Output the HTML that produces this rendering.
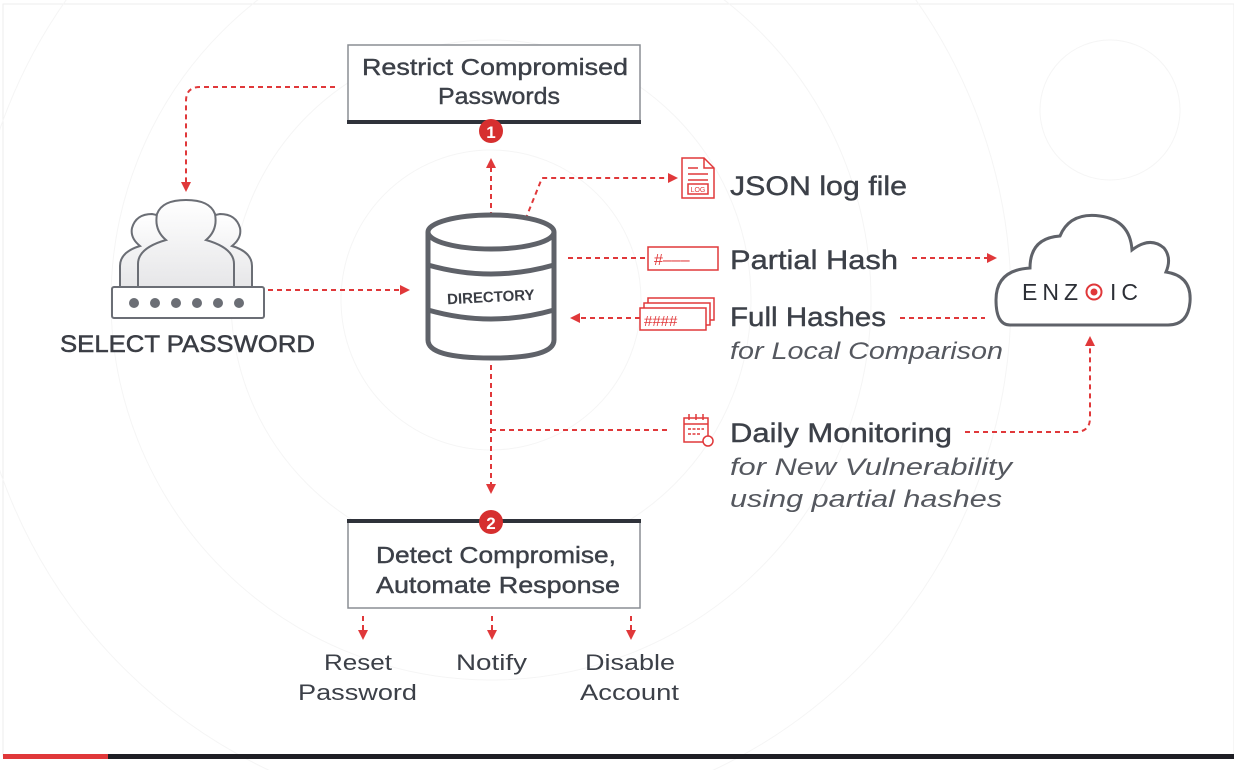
<!DOCTYPE html>
<html><head><meta charset="utf-8"><style>
html,body{margin:0;padding:0;background:#fff;width:1234px;height:770px;overflow:hidden}
svg{display:block}
text{font-family:"Liberation Sans",sans-serif;fill:#3c4048}
</style></head><body>
<svg width="1234" height="770" viewBox="0 0 1234 770" xmlns="http://www.w3.org/2000/svg">
<defs>
<marker id="ah" viewBox="0 0 10 10" refX="8" refY="5" markerWidth="5" markerHeight="5" orient="auto"><path d="M0,0L10,5L0,10z" fill="#e0383a"/></marker>
<linearGradient id="pg" x1="0" y1="0" x2="0" y2="1"><stop offset="0" stop-color="#fff"/><stop offset="1" stop-color="#e6e6e8"/></linearGradient>
</defs>
<rect x="0" y="0" width="1234" height="770" fill="#fff"/>
<rect x="3" y="4" width="1231" height="752" fill="none" stroke="#eeeeee" stroke-width="1"/>
<g fill="none" stroke="#f5f5f5" stroke-width="1">
<circle cx="491" cy="300" r="150"/>
<circle cx="491" cy="300" r="260"/>
<circle cx="491" cy="300" r="380"/>
<circle cx="491" cy="300" r="520"/>
<circle cx="1110" cy="110" r="70"/>
</g>
<rect x="3" y="754" width="105" height="5" fill="#e0383a"/>
<rect x="108" y="754" width="1126" height="5" fill="#1e1e24"/>

<!-- Users icon -->
<g stroke="#6b6e75" stroke-width="2" fill="url(#pg)">
<path d="M120,288 V266 Q120,252 140,246 Q130,238 132,228 Q136,214 152,214 Q166,216 168,230 L168,288z"/>
<path d="M252,288 V266 Q252,252 232,246 Q242,238 240,228 Q236,214 220,214 Q206,216 204,230 L204,288z"/>
<path d="M138,288 V264 Q138,248 166,240 Q154,230 157,214 Q162,200 186,200 Q210,200 215,214 Q218,230 206,240 Q234,248 234,264 V288z"/>
<rect x="112" y="287" width="152" height="31" rx="2" fill="#fff"/>
</g>
<g fill="#6b6e75"><circle cx="134" cy="303" r="5"/><circle cx="155" cy="303" r="5"/><circle cx="176" cy="303" r="5"/><circle cx="197" cy="303" r="5"/><circle cx="218" cy="303" r="5"/><circle cx="239" cy="303" r="5"/></g>
<text x="60" y="352" font-size="24" textLength="255" lengthAdjust="spacingAndGlyphs" stroke="#3a3d44" stroke-width="0.5" style="fill:#3a3d44">SELECT PASSWORD</text>

<g stroke="#e0383a" stroke-width="2" stroke-dasharray="5,4" fill="none">
<path d="M335,87 H200 Q186,87 186,101 V190" marker-end="url(#ah)"/>
<path d="M491,235 V160" marker-end="url(#ah)"/>
<path d="M522,228 L542,178 H676" marker-end="url(#ah)"/>
<path d="M268,290 H408" marker-end="url(#ah)"/>
<path d="M568,258 H645"/>
<path d="M912,258 H995" marker-end="url(#ah)"/>
<path d="M640,318 H572" marker-end="url(#ah)"/>
<path d="M900,318 H985"/>
<path d="M491,365 V492" marker-end="url(#ah)"/>
<path d="M491,430 H670"/>
<path d="M965,432 H1075 Q1090,432 1090,418 V338" marker-end="url(#ah)"/>
<path d="M363,616 V638" marker-end="url(#ah)"/>
<path d="M492,616 V638" marker-end="url(#ah)"/>
<path d="M631,616 V638" marker-end="url(#ah)"/>
</g>

<!-- Box 1 -->
<rect x="348" y="45" width="292" height="77" fill="#fff" stroke="#8a8d94" stroke-width="1.5"/>
<rect x="347" y="120" width="294" height="4" fill="#2f323a"/>
<text x="362" y="75" font-size="23" textLength="266" lengthAdjust="spacingAndGlyphs" stroke="#3c4048" stroke-width="0.4">Restrict Compromised</text>
<text x="438" y="104" font-size="23" textLength="122" lengthAdjust="spacingAndGlyphs" stroke="#3c4048" stroke-width="0.4">Passwords</text>
<circle cx="491" cy="131" r="12" fill="#d62f2f"/>
<text x="491" y="138" font-size="17" font-weight="bold" text-anchor="middle" style="fill:#fff">1</text>

<!-- Box 2 -->
<rect x="348" y="521" width="292" height="87" fill="#fff" stroke="#8a8d94" stroke-width="1.5"/>
<rect x="347" y="519" width="294" height="4" fill="#2f323a"/>
<circle cx="491" cy="522" r="12" fill="#d62f2f"/>
<text x="491" y="529" font-size="17" font-weight="bold" text-anchor="middle" style="fill:#fff">2</text>
<text x="376" y="563" font-size="23" textLength="240" lengthAdjust="spacingAndGlyphs" stroke="#3c4048" stroke-width="0.4">Detect Compromise,</text>
<text x="376" y="593" font-size="23" textLength="244" lengthAdjust="spacingAndGlyphs" stroke="#3c4048" stroke-width="0.4">Automate Response</text>

<text x="324" y="670" font-size="22" textLength="68" lengthAdjust="spacingAndGlyphs">Reset</text>
<text x="298" y="700" font-size="22" textLength="119" lengthAdjust="spacingAndGlyphs">Password</text>
<text x="456" y="670" font-size="22" textLength="71" lengthAdjust="spacingAndGlyphs">Notify</text>
<text x="585" y="670" font-size="22" textLength="90" lengthAdjust="spacingAndGlyphs">Disable</text>
<text x="580" y="700" font-size="22" textLength="99" lengthAdjust="spacingAndGlyphs">Account</text>

<!-- Cylinder -->
<g stroke="#5f6269" stroke-width="5" fill="#fff">
<path d="M428,232 V340 Q428,358 491,358 Q554,358 554,340 V232"/>
<ellipse cx="491" cy="232" rx="63" ry="17"/>
<path d="M428,265 Q491,283 554,265" fill="none"/>
<path d="M428,310 Q491,328 554,310" fill="none"/>
</g>
<text x="491" y="302" font-size="15" font-weight="bold" text-anchor="middle" transform="rotate(-3 491 300)" style="fill:#3a3d44">DIRECTORY</text>

<!-- LOG icon -->
<g stroke="#e0383a" stroke-width="1.5" fill="#fff">
<path d="M682,158 H704 L714,168 V198 H682z"/>
<path d="M704,158 V168 H714" fill="none"/>
<path d="M688,168 H698 M688,174 H708 M688,180 H708" fill="none"/>
<rect x="688" y="184" width="20" height="10" fill="none"/>
</g>
<text x="698" y="192" font-size="7" text-anchor="middle" style="fill:#e0383a">LOG</text>
<text x="730" y="195" font-size="27" textLength="177" lengthAdjust="spacingAndGlyphs" stroke="#3c4048" stroke-width="0.4">JSON log file</text>

<!-- Partial hash -->
<rect x="648" y="247" width="70" height="23" fill="#fff" stroke="#e0383a" stroke-width="1.5"/>
<text x="654" y="265" font-size="16" style="fill:#e0383a">#‒‒‒</text>
<text x="730" y="269" font-size="27" textLength="168" lengthAdjust="spacingAndGlyphs" stroke="#3c4048" stroke-width="0.4">Partial Hash</text>

<!-- Full hashes -->
<g stroke="#e0383a" stroke-width="1.5" fill="#fff">
<rect x="648" y="298" width="66" height="22"/>
<rect x="644" y="303" width="66" height="22"/>
<rect x="640" y="308" width="66" height="22"/>
</g>
<text x="644" y="326" font-size="15" style="fill:#e0383a">####</text>
<text x="730" y="326" font-size="27" textLength="156" lengthAdjust="spacingAndGlyphs" stroke="#3c4048" stroke-width="0.4">Full Hashes</text>
<text x="730" y="359" font-size="24" font-style="italic" textLength="273" lengthAdjust="spacingAndGlyphs" style="fill:#55585f">for Local Comparison</text>

<!-- Cloud -->
<path d="M1010,325 Q996,325 996,300 Q996,270 1030,268 Q1030,238 1060,236 Q1070,212 1100,216 Q1130,220 1132,250 Q1150,236 1164,248 Q1172,258 1166,272 Q1192,276 1190,302 Q1188,325 1168,325 Z" fill="#fff" stroke="#5f6269" stroke-width="3"/>
<text x="1022" y="300" font-size="23" style="fill:#2c2f36;letter-spacing:5px">ENZ</text>
<circle cx="1094" cy="292" r="7.5" fill="none" stroke="#e0383a" stroke-width="2"/>
<circle cx="1094" cy="292" r="3.5" fill="#e0383a"/>
<text x="1110" y="300" font-size="23" style="fill:#2c2f36;letter-spacing:5px">IC</text>

<!-- Calendar -->
<g stroke="#e0383a" stroke-width="1.5" fill="#fff">
<rect x="684" y="418" width="24" height="24"/>
<path d="M684,424 H708 M689,414 V420 M696,414 V420 M703,414 V420" fill="none"/>
<path d="M688,429 H704 M688,434 H700" fill="none" stroke-dasharray="3,1.5"/>
<circle cx="708" cy="441" r="5"/>
</g>
<text x="730" y="442" font-size="27" textLength="222" lengthAdjust="spacingAndGlyphs" stroke="#3c4048" stroke-width="0.4">Daily Monitoring</text>
<text x="730" y="475" font-size="24" font-style="italic" textLength="282" lengthAdjust="spacingAndGlyphs" style="fill:#55585f">for New Vulnerability</text>
<text x="730" y="507" font-size="24" font-style="italic" textLength="272" lengthAdjust="spacingAndGlyphs" style="fill:#55585f">using partial hashes</text>
</svg>
</body></html>
